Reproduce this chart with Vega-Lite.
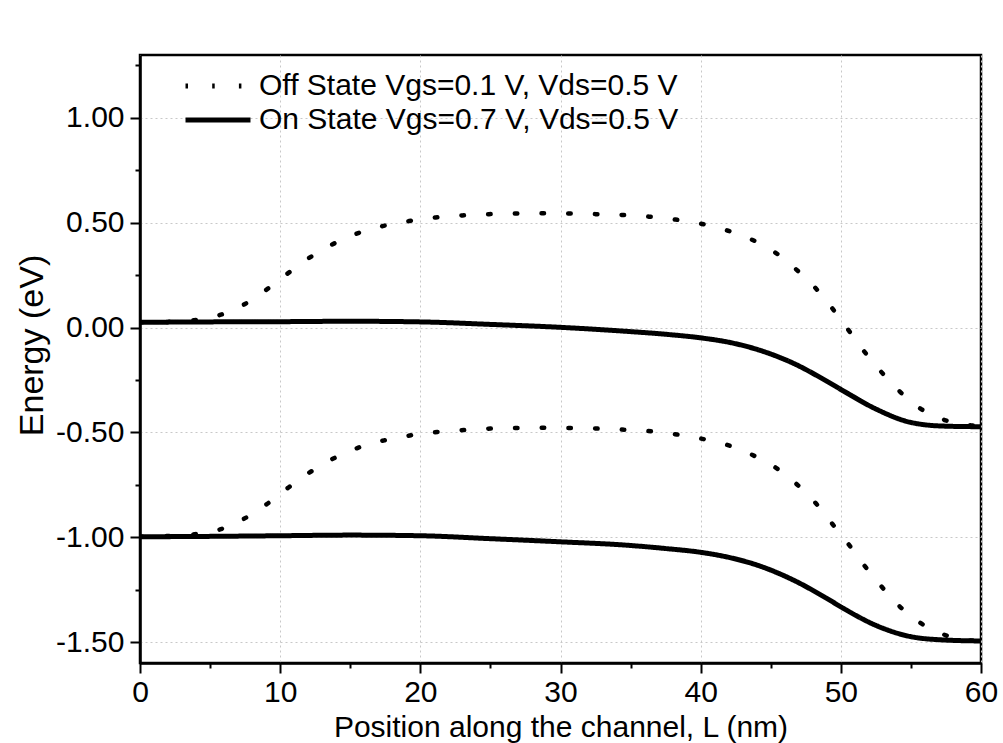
{
  "$schema": "https://vega.github.io/schema/vega-lite/v6.json",
  "width": 841,
  "height": 608,
  "autosize": "none",
  "padding": {"left": 140, "top": 55, "right": 22, "bottom": 80},
  "background": "white",
  "config": {
    "font": "Liberation Sans",
    "view": {"stroke": "black", "strokeWidth": 2.5},
    "axis": {
      "labelFont": "Liberation Sans",
      "titleFont": "Liberation Sans",
      "labelColor": "black",
      "titleColor": "black",
      "titleFontWeight": "normal",
      "domainColor": "black",
      "tickColor": "black"
    },
    "legend": {
      "labelFont": "Liberation Sans",
      "labelColor": "black",
      "labelFontSize": 30,
      "labelLimit": 0
    }
  },
  "data": {
    "values": [
      {"L": 0, "E": 0.025, "state": "Off State Vgs=0.1 V, Vds=0.5 V", "band": "upper"},
      {"L": 1.97, "E": 0.027, "state": "Off State Vgs=0.1 V, Vds=0.5 V", "band": "upper"},
      {"L": 3.87, "E": 0.035, "state": "Off State Vgs=0.1 V, Vds=0.5 V", "band": "upper"},
      {"L": 5.71, "E": 0.06, "state": "Off State Vgs=0.1 V, Vds=0.5 V", "band": "upper"},
      {"L": 7.37, "E": 0.108, "state": "Off State Vgs=0.1 V, Vds=0.5 V", "band": "upper"},
      {"L": 8.92, "E": 0.176, "state": "Off State Vgs=0.1 V, Vds=0.5 V", "band": "upper"},
      {"L": 10.42, "E": 0.252, "state": "Off State Vgs=0.1 V, Vds=0.5 V", "band": "upper"},
      {"L": 12.0, "E": 0.329, "state": "Off State Vgs=0.1 V, Vds=0.5 V", "band": "upper"},
      {"L": 13.68, "E": 0.395, "state": "Off State Vgs=0.1 V, Vds=0.5 V", "band": "upper"},
      {"L": 15.46, "E": 0.448, "state": "Off State Vgs=0.1 V, Vds=0.5 V", "band": "upper"},
      {"L": 17.31, "E": 0.484, "state": "Off State Vgs=0.1 V, Vds=0.5 V", "band": "upper"},
      {"L": 19.2, "E": 0.508, "state": "Off State Vgs=0.1 V, Vds=0.5 V", "band": "upper"},
      {"L": 21.1, "E": 0.525, "state": "Off State Vgs=0.1 V, Vds=0.5 V", "band": "upper"},
      {"L": 23.0, "E": 0.535, "state": "Off State Vgs=0.1 V, Vds=0.5 V", "band": "upper"},
      {"L": 24.9, "E": 0.541, "state": "Off State Vgs=0.1 V, Vds=0.5 V", "band": "upper"},
      {"L": 26.8, "E": 0.544, "state": "Off State Vgs=0.1 V, Vds=0.5 V", "band": "upper"},
      {"L": 28.7, "E": 0.545, "state": "Off State Vgs=0.1 V, Vds=0.5 V", "band": "upper"},
      {"L": 30.6, "E": 0.544, "state": "Off State Vgs=0.1 V, Vds=0.5 V", "band": "upper"},
      {"L": 32.5, "E": 0.541, "state": "Off State Vgs=0.1 V, Vds=0.5 V", "band": "upper"},
      {"L": 34.4, "E": 0.537, "state": "Off State Vgs=0.1 V, Vds=0.5 V", "band": "upper"},
      {"L": 36.3, "E": 0.529, "state": "Off State Vgs=0.1 V, Vds=0.5 V", "band": "upper"},
      {"L": 38.2, "E": 0.515, "state": "Off State Vgs=0.1 V, Vds=0.5 V", "band": "upper"},
      {"L": 40.1, "E": 0.494, "state": "Off State Vgs=0.1 V, Vds=0.5 V", "band": "upper"},
      {"L": 41.9, "E": 0.463, "state": "Off State Vgs=0.1 V, Vds=0.5 V", "band": "upper"},
      {"L": 43.66, "E": 0.419, "state": "Off State Vgs=0.1 V, Vds=0.5 V", "band": "upper"},
      {"L": 45.3, "E": 0.359, "state": "Off State Vgs=0.1 V, Vds=0.5 V", "band": "upper"},
      {"L": 46.7, "E": 0.284, "state": "Off State Vgs=0.1 V, Vds=0.5 V", "band": "upper"},
      {"L": 48.1, "E": 0.195, "state": "Off State Vgs=0.1 V, Vds=0.5 V", "band": "upper"},
      {"L": 49.35, "E": 0.095, "state": "Off State Vgs=0.1 V, Vds=0.5 V", "band": "upper"},
      {"L": 50.5, "E": -0.008, "state": "Off State Vgs=0.1 V, Vds=0.5 V", "band": "upper"},
      {"L": 51.6, "E": -0.108, "state": "Off State Vgs=0.1 V, Vds=0.5 V", "band": "upper"},
      {"L": 52.8, "E": -0.205, "state": "Off State Vgs=0.1 V, Vds=0.5 V", "band": "upper"},
      {"L": 54.05, "E": -0.295, "state": "Off State Vgs=0.1 V, Vds=0.5 V", "band": "upper"},
      {"L": 55.6, "E": -0.383, "state": "Off State Vgs=0.1 V, Vds=0.5 V", "band": "upper"},
      {"L": 57.4, "E": -0.441, "state": "Off State Vgs=0.1 V, Vds=0.5 V", "band": "upper"},
      {"L": 59.3, "E": -0.467, "state": "Off State Vgs=0.1 V, Vds=0.5 V", "band": "upper"},
      {"L": 60, "E": -0.47, "state": "Off State Vgs=0.1 V, Vds=0.5 V", "band": "upper"},

      {"L": 0, "E": -0.998, "state": "Off State Vgs=0.1 V, Vds=0.5 V", "band": "lower"},
      {"L": 1.97, "E": -0.994, "state": "Off State Vgs=0.1 V, Vds=0.5 V", "band": "lower"},
      {"L": 3.87, "E": -0.986, "state": "Off State Vgs=0.1 V, Vds=0.5 V", "band": "lower"},
      {"L": 5.71, "E": -0.963, "state": "Off State Vgs=0.1 V, Vds=0.5 V", "band": "lower"},
      {"L": 7.37, "E": -0.914, "state": "Off State Vgs=0.1 V, Vds=0.5 V", "band": "lower"},
      {"L": 8.97, "E": -0.846, "state": "Off State Vgs=0.1 V, Vds=0.5 V", "band": "lower"},
      {"L": 10.49, "E": -0.768, "state": "Off State Vgs=0.1 V, Vds=0.5 V", "band": "lower"},
      {"L": 12.08, "E": -0.692, "state": "Off State Vgs=0.1 V, Vds=0.5 V", "band": "lower"},
      {"L": 13.79, "E": -0.625, "state": "Off State Vgs=0.1 V, Vds=0.5 V", "band": "lower"},
      {"L": 15.58, "E": -0.573, "state": "Off State Vgs=0.1 V, Vds=0.5 V", "band": "lower"},
      {"L": 17.43, "E": -0.538, "state": "Off State Vgs=0.1 V, Vds=0.5 V", "band": "lower"},
      {"L": 19.33, "E": -0.514, "state": "Off State Vgs=0.1 V, Vds=0.5 V", "band": "lower"},
      {"L": 21.2, "E": -0.498, "state": "Off State Vgs=0.1 V, Vds=0.5 V", "band": "lower"},
      {"L": 23.1, "E": -0.489, "state": "Off State Vgs=0.1 V, Vds=0.5 V", "band": "lower"},
      {"L": 25.0, "E": -0.482, "state": "Off State Vgs=0.1 V, Vds=0.5 V", "band": "lower"},
      {"L": 26.9, "E": -0.479, "state": "Off State Vgs=0.1 V, Vds=0.5 V", "band": "lower"},
      {"L": 28.8, "E": -0.478, "state": "Off State Vgs=0.1 V, Vds=0.5 V", "band": "lower"},
      {"L": 30.75, "E": -0.479, "state": "Off State Vgs=0.1 V, Vds=0.5 V", "band": "lower"},
      {"L": 32.65, "E": -0.482, "state": "Off State Vgs=0.1 V, Vds=0.5 V", "band": "lower"},
      {"L": 34.55, "E": -0.487, "state": "Off State Vgs=0.1 V, Vds=0.5 V", "band": "lower"},
      {"L": 36.45, "E": -0.495, "state": "Off State Vgs=0.1 V, Vds=0.5 V", "band": "lower"},
      {"L": 38.3, "E": -0.51, "state": "Off State Vgs=0.1 V, Vds=0.5 V", "band": "lower"},
      {"L": 40.2, "E": -0.532, "state": "Off State Vgs=0.1 V, Vds=0.5 V", "band": "lower"},
      {"L": 42.0, "E": -0.562, "state": "Off State Vgs=0.1 V, Vds=0.5 V", "band": "lower"},
      {"L": 43.7, "E": -0.608, "state": "Off State Vgs=0.1 V, Vds=0.5 V", "band": "lower"},
      {"L": 45.35, "E": -0.668, "state": "Off State Vgs=0.1 V, Vds=0.5 V", "band": "lower"},
      {"L": 46.8, "E": -0.744, "state": "Off State Vgs=0.1 V, Vds=0.5 V", "band": "lower"},
      {"L": 48.2, "E": -0.837, "state": "Off State Vgs=0.1 V, Vds=0.5 V", "band": "lower"},
      {"L": 49.4, "E": -0.937, "state": "Off State Vgs=0.1 V, Vds=0.5 V", "band": "lower"},
      {"L": 50.6, "E": -1.038, "state": "Off State Vgs=0.1 V, Vds=0.5 V", "band": "lower"},
      {"L": 51.7, "E": -1.137, "state": "Off State Vgs=0.1 V, Vds=0.5 V", "band": "lower"},
      {"L": 52.9, "E": -1.235, "state": "Off State Vgs=0.1 V, Vds=0.5 V", "band": "lower"},
      {"L": 54.15, "E": -1.327, "state": "Off State Vgs=0.1 V, Vds=0.5 V", "band": "lower"},
      {"L": 55.7, "E": -1.41, "state": "Off State Vgs=0.1 V, Vds=0.5 V", "band": "lower"},
      {"L": 57.5, "E": -1.468, "state": "Off State Vgs=0.1 V, Vds=0.5 V", "band": "lower"},
      {"L": 59.4, "E": -1.494, "state": "Off State Vgs=0.1 V, Vds=0.5 V", "band": "lower"},
      {"L": 60, "E": -1.497, "state": "Off State Vgs=0.1 V, Vds=0.5 V", "band": "lower"},

      {"L": 0, "E": 0.025, "state": "On State Vgs=0.7 V, Vds=0.5 V", "band": "upper"},
      {"L": 5, "E": 0.027, "state": "On State Vgs=0.7 V, Vds=0.5 V", "band": "upper"},
      {"L": 10, "E": 0.028, "state": "On State Vgs=0.7 V, Vds=0.5 V", "band": "upper"},
      {"L": 15, "E": 0.03, "state": "On State Vgs=0.7 V, Vds=0.5 V", "band": "upper"},
      {"L": 20, "E": 0.027, "state": "On State Vgs=0.7 V, Vds=0.5 V", "band": "upper"},
      {"L": 25, "E": 0.015, "state": "On State Vgs=0.7 V, Vds=0.5 V", "band": "upper"},
      {"L": 30, "E": 0.001, "state": "On State Vgs=0.7 V, Vds=0.5 V", "band": "upper"},
      {"L": 34.7, "E": -0.018, "state": "On State Vgs=0.7 V, Vds=0.5 V", "band": "upper"},
      {"L": 37.5, "E": -0.032, "state": "On State Vgs=0.7 V, Vds=0.5 V", "band": "upper"},
      {"L": 40.1, "E": -0.05, "state": "On State Vgs=0.7 V, Vds=0.5 V", "band": "upper"},
      {"L": 42.0, "E": -0.07, "state": "On State Vgs=0.7 V, Vds=0.5 V", "band": "upper"},
      {"L": 44.2, "E": -0.108, "state": "On State Vgs=0.7 V, Vds=0.5 V", "band": "upper"},
      {"L": 46.6, "E": -0.17, "state": "On State Vgs=0.7 V, Vds=0.5 V", "band": "upper"},
      {"L": 49.0, "E": -0.256, "state": "On State Vgs=0.7 V, Vds=0.5 V", "band": "upper"},
      {"L": 50.2, "E": -0.303, "state": "On State Vgs=0.7 V, Vds=0.5 V", "band": "upper"},
      {"L": 52.55, "E": -0.39, "state": "On State Vgs=0.7 V, Vds=0.5 V", "band": "upper"},
      {"L": 54.9, "E": -0.451, "state": "On State Vgs=0.7 V, Vds=0.5 V", "band": "upper"},
      {"L": 57.3, "E": -0.47, "state": "On State Vgs=0.7 V, Vds=0.5 V", "band": "upper"},
      {"L": 60, "E": -0.473, "state": "On State Vgs=0.7 V, Vds=0.5 V", "band": "upper"},

      {"L": 0, "E": -0.998, "state": "On State Vgs=0.7 V, Vds=0.5 V", "band": "lower"},
      {"L": 5, "E": -0.996, "state": "On State Vgs=0.7 V, Vds=0.5 V", "band": "lower"},
      {"L": 10, "E": -0.993, "state": "On State Vgs=0.7 V, Vds=0.5 V", "band": "lower"},
      {"L": 15, "E": -0.99, "state": "On State Vgs=0.7 V, Vds=0.5 V", "band": "lower"},
      {"L": 20, "E": -0.993, "state": "On State Vgs=0.7 V, Vds=0.5 V", "band": "lower"},
      {"L": 25, "E": -1.007, "state": "On State Vgs=0.7 V, Vds=0.5 V", "band": "lower"},
      {"L": 30, "E": -1.022, "state": "On State Vgs=0.7 V, Vds=0.5 V", "band": "lower"},
      {"L": 34.7, "E": -1.038, "state": "On State Vgs=0.7 V, Vds=0.5 V", "band": "lower"},
      {"L": 37.5, "E": -1.054, "state": "On State Vgs=0.7 V, Vds=0.5 V", "band": "lower"},
      {"L": 40.1, "E": -1.073, "state": "On State Vgs=0.7 V, Vds=0.5 V", "band": "lower"},
      {"L": 42.0, "E": -1.096, "state": "On State Vgs=0.7 V, Vds=0.5 V", "band": "lower"},
      {"L": 44.2, "E": -1.137, "state": "On State Vgs=0.7 V, Vds=0.5 V", "band": "lower"},
      {"L": 46.6, "E": -1.204, "state": "On State Vgs=0.7 V, Vds=0.5 V", "band": "lower"},
      {"L": 49.0, "E": -1.292, "state": "On State Vgs=0.7 V, Vds=0.5 V", "band": "lower"},
      {"L": 50.2, "E": -1.34, "state": "On State Vgs=0.7 V, Vds=0.5 V", "band": "lower"},
      {"L": 52.55, "E": -1.422, "state": "On State Vgs=0.7 V, Vds=0.5 V", "band": "lower"},
      {"L": 54.9, "E": -1.473, "state": "On State Vgs=0.7 V, Vds=0.5 V", "band": "lower"},
      {"L": 57.3, "E": -1.49, "state": "On State Vgs=0.7 V, Vds=0.5 V", "band": "lower"},
      {"L": 60, "E": -1.495, "state": "On State Vgs=0.7 V, Vds=0.5 V", "band": "lower"}
    ]
  },
  "resolve": {"axis": {"x": "independent", "y": "independent"}},
  "layer": [
    {
      "transform": [{"filter": "datum.state === 'Off State Vgs=0.1 V, Vds=0.5 V'"}],
      "mark": {"type": "line", "color": "black", "strokeWidth": 4.5, "strokeCap": "round", "interpolate": "monotone", "clip": true},
      "encoding": {
        "x": {
          "field": "L", "type": "quantitative",
          "scale": {"domain": [0, 60], "nice": false, "zero": false},
          "axis": {
            "orient": "bottom",
            "title": "Position along the channel, L (nm)",
            "titleFontSize": 30,
            "titlePadding": 5,
            "values": [0, 10, 20, 30, 40, 50, 60],
            "format": "d",
            "labelFontSize": 30,
            "labelPadding": 4,
            "labelFlush": false,
            "tickSize": 10,
            "tickWidth": 2,
            "domainWidth": 2.5,
            "grid": true,
            "gridColor": "#c8c8c8",
            "gridDash": [2, 3],
            "gridWidth": 1
          }
        },
        "y": {
          "field": "E", "type": "quantitative",
          "scale": {"domain": [-1.6, 1.3], "nice": false, "zero": false},
          "axis": {
            "orient": "left",
            "title": "Energy (eV)",
            "titleFontSize": 34,
            "titlePadding": 6,
            "titleY": 290,
            "values": [-1.5, -1, -0.5, 0, 0.5, 1],
            "labelExpr": "replace(format(datum.value, '.2f'), '\u2212', '-')",
            "labelFontSize": 30,
            "labelPadding": 6,
            "labelFlush": false,
            "tickSize": 10,
            "tickWidth": 2,
            "domainWidth": 2.5,
            "grid": true,
            "gridColor": "#c8c8c8",
            "gridDash": [2, 3],
            "gridWidth": 1
          }
        },
        "detail": {"field": "band", "type": "nominal"},
        "strokeDash": {
          "field": "state", "type": "nominal",
          "scale": {
            "domain": ["Off State Vgs=0.1 V, Vds=0.5 V", "On State Vgs=0.7 V, Vds=0.5 V"],
            "range": [[2.5, 24.2], [1, 0]]
          },
          "legend": {
            "title": null,
            "orient": "none",
            "legendX": 59,
            "legendY": 12,
            "padding": 0,
            "rowPadding": 0,
            "symbolType": "M-2,0H2",
            "symbolSize": 1056,
            "symbolStrokeWidth": 5,
            "symbolStrokeColor": "black",
            "labelOffset": 22,
            "labelFontSize": 30,
            "labelLimit": 0
          }
        }
      }
    },
    {
      "transform": [{"filter": "datum.state === 'On State Vgs=0.7 V, Vds=0.5 V'"}],
      "mark": {"type": "line", "color": "black", "strokeWidth": 5, "interpolate": "monotone", "clip": true},
      "encoding": {
        "x": {
          "field": "L", "type": "quantitative",
          "axis": {
            "orient": "bottom",
            "title": null,
            "values": [5, 15, 25, 35, 45, 55],
            "labels": false,
            "domain": false,
            "grid": false,
            "tickSize": 5,
            "tickWidth": 2
          }
        },
        "y": {
          "field": "E", "type": "quantitative",
          "axis": {
            "orient": "left",
            "title": null,
            "values": [-1.25, -0.75, -0.25, 0.25, 0.75, 1.25],
            "labels": false,
            "domain": false,
            "grid": false,
            "tickSize": 5,
            "tickWidth": 2
          }
        },
        "detail": {"field": "band", "type": "nominal"},
        "strokeDash": {"field": "state", "type": "nominal"}
      }
    }
  ]
}
